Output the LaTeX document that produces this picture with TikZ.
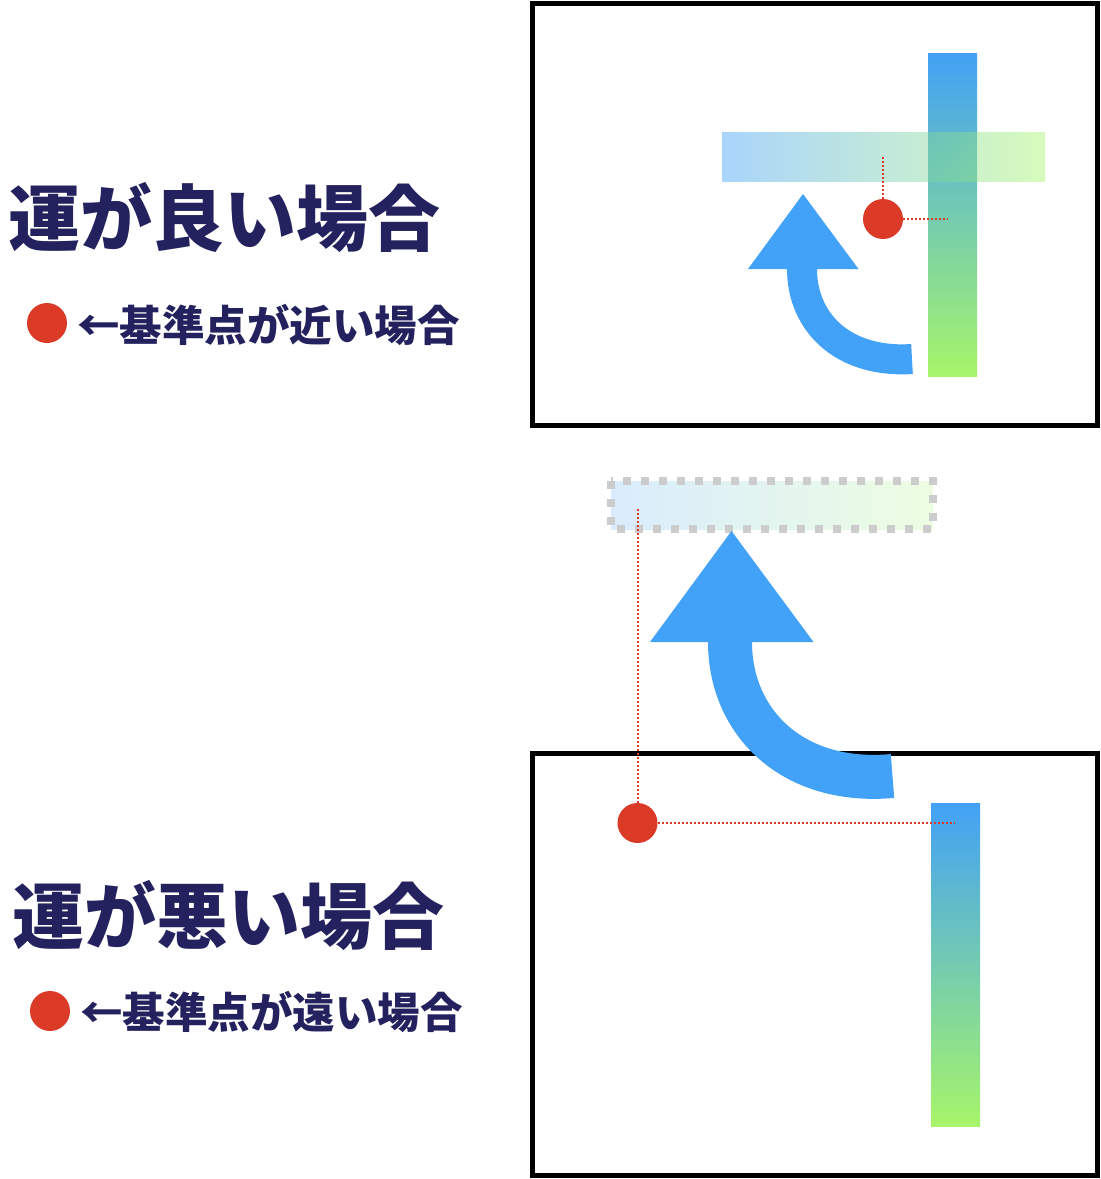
\documentclass[tikz,border=0pt]{standalone}
\usepackage{fontspec}
\newfontfamily\jp{Noto Sans CJK JP}
\definecolor{navy}{RGB}{36,34,94}
\definecolor{dotred}{RGB}{219,58,38}
\definecolor{arrowblue}{RGB}{66,162,247}
\definecolor{gblue}{RGB}{66,161,246}
\definecolor{ggreen}{RGB}{166,245,106}
\definecolor{ghostgray}{RGB}{204,204,204}
\tikzset{
  frame/.style={draw=black,line width=5pt},
  vbar/.style={top color=gblue,bottom color=ggreen,draw=none},
  hbar/.style={left color=gblue,right color=ggreen,draw=none},
  refdot/.style={circle,fill=dotred,draw=none,minimum size=40pt,inner sep=0pt},
  guide/.style={draw=dotred,line width=2pt,dash pattern=on 2pt off 2pt},
  headline/.style={font=\jp\bfseries\fontsize{72pt}{72pt}\selectfont,text=navy,inner sep=0pt,anchor=west},
  subline/.style={font=\jp\bfseries\fontsize{42.5pt}{42.5pt}\selectfont,text=navy,inner sep=0pt,anchor=west},
  shaft/.style={draw=arrowblue,line cap=butt},
  headtri/.style={fill=arrowblue,draw=none},
}
\begin{document}
\begin{tikzpicture}[x=1pt,y=-1pt]
\useasboundingbox (0,0) rectangle (1101,1179);
% frames
\draw[frame] (532.5,3.5) rectangle (1097.5,425);
\draw[frame] (532.5,753.5) rectangle (1097.5,1175.5);
% top bars
\shade[vbar] (928,53) rectangle (977,376);
\shade[hbar,fill opacity=0.45] (722,132) rectangle (1045,181);
% ghost bar
\shade[hbar,fill opacity=0.2] (611,481) rectangle (933,529);
\draw[draw=ghostgray,line width=8pt,dash pattern=on 8pt off 10pt] (611,481) rectangle (933,529);
% bottom bar
\shade[vbar] (931,803) rectangle (980,1126);
% top arrow
\draw[shaft,line width=30pt] (802,263) -- (802,269) .. controls (802,321.7) and (842.5,363.5) .. (912,359);
\fill[headtri] (803,194) -- (748,269) -- (858.5,269) -- cycle;
% bottom arrow
\draw[shaft,line width=44pt] (730,636) -- (730,642) .. controls (730,722) and (792,785) .. (892.5,776);
\fill[headtri] (731.5,531) -- (650,642) -- (813.5,642) -- cycle;
% reference dots and guides
\node[refdot] (d1) at (883,219) {};
\coordinate (g1v) at (883,157);
\coordinate (g1h) at (948,219);
\draw[guide] (d1.north) -- (g1v);
\draw[guide] (d1.east) -- (g1h);
\node[refdot] (d2) at (637.5,823) {};
\coordinate (g2v) at (637.5,507);
\coordinate (g2h) at (955,823);
\draw[guide] (d2.north) -- (g2v);
\draw[guide] (d2.east) -- (g2h);
% labels
\node[headline] (h1) at (8,217) {運が良い場合};
\node[refdot] (k1) at (47,323) {};
\node[subline] (s1) at (77,325) {←基準点が近い場合};
\node[headline] (h2) at (12,915) {運が悪い場合};
\node[refdot] (k2) at (50,1011) {};
\node[subline] (s2) at (80,1012) {←基準点が遠い場合};
\end{tikzpicture}
\end{document}
